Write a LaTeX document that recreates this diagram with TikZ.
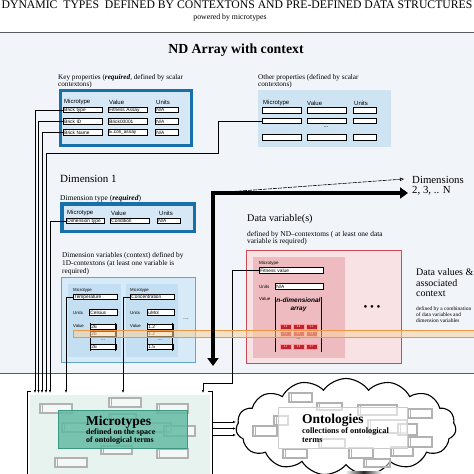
\documentclass[tikz,border=0pt]{standalone}
\usepackage{fontspec}
\setmainfont{Liberation Serif}
\setsansfont{Liberation Sans}
\usetikzlibrary{shapes.symbols,arrows.meta}
\definecolor{bgblue}{RGB}{241,245,250}
\definecolor{keyblue}{RGB}{24,112,170}
\definecolor{keyfill}{RGB}{214,232,246}
\definecolor{othfill}{RGB}{207,228,243}
\definecolor{dvborder}{RGB}{95,165,205}
\definecolor{dvfill}{RGB}{214,234,247}
\definecolor{panfill}{RGB}{196,223,241}
\definecolor{redb}{RGB}{205,75,85}
\definecolor{redfill}{RGB}{249,226,228}
\definecolor{redpan}{RGB}{238,188,192}
\definecolor{cellred}{RGB}{192,35,50}
\definecolor{orng}{RGB}{236,150,70}
\definecolor{orngfill}{RGB}{248,210,160}
\definecolor{tealc}{RGB}{95,185,163}
\definecolor{tealb}{RGB}{60,150,130}
\definecolor{mtbg}{RGB}{230,243,239}
\definecolor{sepgray}{RGB}{90,90,90}
\newcommand{\fsz}[1]{\fontsize{#1}{#1}\selectfont}
\newcommand{\ghb}[4]{\draw[ghost,fill=white,fill opacity=0.45] (#1,#2) rectangle ++(#3,#4); \draw[ghost] (#1+1.2,#2+1.2) rectangle ++(#3-2.4,#4-2.4); \draw[ghost] (#1+3.5,#2) -- ++(0,#4);}
\tikzset{
  fld/.style={draw=black, line width=0.75pt, fill=white, minimum height=5.5pt, inner xsep=1pt, inner ysep=0pt, anchor=west, align=left, font=\sffamily\fsz{4.8}},
  hdr/.style={anchor=west, inner sep=0pt, font=\sffamily\fsz{6}},
  shdr/.style={anchor=west, inner sep=0pt, font=\sffamily\fsz{4.3}},
  conn/.style={draw=black, line width=0.6pt, -{Latex[length=3pt,width=2.4pt]}},
  ghost/.style={draw=gray!60, line width=0.45pt},
  cell/.style={fill=cellred, draw=red!40, line width=0.3pt, minimum width=11pt, minimum height=5pt, inner sep=0pt, text=white, font=\sffamily\fsz{2.5}},
  bracketline/.style={line width=1.5pt, draw=black},
}
\begin{document}
\begin{tikzpicture}[x=1pt,y=-1pt]
\useasboundingbox (0,0) rectangle (474,474);
\clip (0,0) rectangle (474,474);
\fill[white] (0,0) rectangle (474,474);
\fill[bgblue] (0,33) rectangle (474,373);
\draw[sepgray, line width=1.4pt] (0,32.5) -- (474,32.5);
\draw[sepgray, line width=1pt] (0,373) -- (474,373);

% ---------- titles
\node[anchor=base, inner sep=0pt, font=\fsz{11.7}] (title) at (237,8) {DYNAMIC\ \ TYPES\ \ DEFINED BY CONTEXTONS AND PRE-DEFINED DATA STRUCTURES};
\node[inner sep=0pt, font=\fsz{7.8}] (subtitle) at (230,18) {powered by microtypes};
\node[inner sep=0pt, font=\bfseries\fsz{13.8}] (ndtitle) at (236,50) {ND Array with context};

% ---------- key properties
\node[anchor=north west, inner sep=0pt, align=left, font=\fontsize{7.2}{7.4}\selectfont] (keylab) at (58,74) {Key properties (\textbf{\textit{required}}, defined by scalar\\contextons)};
\node[draw=keyblue, line width=3.5pt, fill=keyfill, minimum width=131pt, minimum height=55pt, inner sep=0pt] (keybox) at (126,118) {};
\node[hdr] (kh1) at (64,102) {Microtype};
\node[hdr] (kh2) at (109,102) {Value};
\node[hdr] (kh3) at (156,102) {Units};
\node[fld, text width=37pt] (k11) at (63,110) {Brick type};
\node[fld, text width=37pt] (k12) at (108,110) {Fitness Assay};
\node[fld, text width=21pt] (k13) at (155,110) {N/A};
\node[fld, text width=37pt] (k21) at (63,121.5) {Brick ID};
\node[fld, text width=37pt] (k22) at (108,121.5) {Brick00001};
\node[fld, text width=21pt] (k23) at (155,121.5) {N/A};
\node[fld, text width=37pt] (k31) at (63,132.5) {Brick Name};
\node[fld, text width=37pt] (k32) at (108,132.5) {E.coli\_assay};
\node[fld, text width=21pt] (k33) at (155,132.5) {N/A};

% ---------- other properties
\node[anchor=north west, inner sep=0pt, align=left, font=\fontsize{7.2}{7.4}\selectfont] (othlab) at (258,74) {Other properties (defined by scalar\\contextons)};
\node[fill=othfill, minimum width=133pt, minimum height=57pt, inner sep=0pt, anchor=north west] (othbox) at (258,90) {};
\node[hdr] (oh1) at (263,103) {Microtype};
\node[hdr] (oh2) at (307,103) {Value};
\node[hdr] (oh3) at (354,103) {Units};
\node[fld, text width=37pt] (o11) at (262,110.5) {};
\node[fld, text width=37pt] (o12) at (307,110.5) {};
\node[fld, text width=21pt] (o13) at (353,110.5) {};
\node[fld, text width=37pt] (o21) at (262,121) {};
\node[fld, text width=37pt] (o22) at (307,121) {};
\node[fld, text width=21pt] (o23) at (353,121) {};
\node[inner sep=0pt, font=\sffamily\fsz{6}] (odots) at (326,127.5) {...};
\node[fld, text width=37pt] (o31) at (262,137.5) {};
\node[fld, text width=37pt] (o32) at (307,137.5) {};
\node[fld, text width=21pt] (o33) at (353,137.5) {};

% ---------- dimension 1
\node[anchor=west, inner sep=0pt, font=\fsz{11}] (dim1) at (60,179) {Dimension 1};
\node[anchor=west, inner sep=0pt, font=\fsz{7.5}] (dtlab) at (60,198.5) {Dimension type (\textbf{\textit{required}})};
\node[draw=keyblue, line width=3.5pt, fill=keyfill, minimum width=132.5pt, minimum height=27.5pt, inner sep=0pt] (dtbox) at (128,217.5) {};
\node[hdr] (dh1) at (67,213) {Microtype};
\node[hdr] (dh2) at (111,213) {Value};
\node[hdr] (dh3) at (159,213) {Units};
\node[fld, text width=36pt] (d1) at (66,221) {Dimension type};
\node[fld, text width=37pt] (d2) at (110,221) {Condition};
\node[fld, text width=21pt] (d3) at (157,221) {N/A};

\node[anchor=north west, inner sep=0pt, align=left, font=\fontsize{7.3}{7.6}\selectfont] (dvlab) at (62,252.5) {Dimension variables (context) defined by\\1D-contextons (at least one variable is\\required)};
\node[draw=dvborder, line width=0.9pt, fill=dvfill, minimum width=134pt, minimum height=85pt, inner sep=0pt, anchor=north west] (dvbox) at (61,277) {};
\node[fill=panfill, minimum width=53pt, minimum height=73pt, inner sep=0pt, anchor=north west] (pan1) at (68,284) {};
\node[fill=panfill, minimum width=52pt, minimum height=73pt, inner sep=0pt, anchor=north west] (pan2) at (126,284) {};
% panel 1
\node[shdr] (p1mt) at (73,290) {Microtype};
\node[fld, text width=42pt] (p1f) at (73,297) {Temperature};
\node[shdr] (p1u) at (73,312.5) {Units};
\node[fld, text width=26pt] (p1uf) at (89,312.5) {Celsius};
\node[shdr] (p1v) at (73,326) {Value};
\node[fld, text width=24pt] (p1v1) at (90,327) {26};
\node[fld, text width=24pt] (p1v2) at (90,334) {26};
\node[inner sep=0pt, font=\sffamily\fsz{5}] (p1vd) at (103,340) {...};
\node[fld, text width=24pt] (p1v4) at (90,347) {26};
\draw[bracketline] (90.5,322.5) -- (90.5,351);
\draw[bracketline] (115.5,322.5) -- (115.5,351);
% panel 2
\node[shdr] (p2mt) at (130,290) {Microtype};
\node[fld, text width=42pt] (p2f) at (130,297) {Concentration};
\node[shdr] (p2u) at (130,312.5) {Units};
\node[fld, text width=25pt] (p2uf) at (147,312.5) {uMol};
\node[shdr] (p2v) at (130,326) {Value};
\node[fld, text width=24pt] (p2v1) at (147,327) {1.2};
\node[fld, text width=24pt] (p2v2) at (147,334) {1.2};
\node[inner sep=0pt, font=\sffamily\fsz{5}] (p2vd) at (160,340) {...};
\node[fld, text width=24pt] (p2v4) at (147,347) {1.5};
\draw[bracketline] (147.5,322.5) -- (147.5,351);
\draw[bracketline] (172.5,322.5) -- (172.5,351);
\node[inner sep=0pt, font=\sffamily\fsz{7}, text=black!70] (pdots) at (186,319) {...};

% ---------- data variables
\node[anchor=west, inner sep=0pt, font=\fsz{10.2}] (dvar) at (247,219) {Data variable(s)};
\node[anchor=north west, inner sep=0pt, align=left, font=\fontsize{7.4}{7.2}\selectfont] (dvardesc) at (247,231) {defined by ND--contextoms ( at least one data\\variable is required)};
\node[draw=redb, line width=0.9pt, fill=redfill, minimum width=155pt, minimum height=113pt, anchor=north west, inner sep=0pt] (redbox) at (246,250) {};
\node[fill=redpan, minimum width=92pt, minimum height=101pt, anchor=north west, inner sep=0pt] (redpanel) at (253,257) {};
\node[shdr, font=\sffamily\fsz{4.5}] (rmt) at (259,263.5) {Microtype};
\node[fld, text width=62pt] (rf) at (259,270.5) {Fitness value};
\node[shdr, font=\sffamily\fsz{4.5}] (ru) at (259,286.5) {Units};
\node[fld, text width=46pt] (ruf) at (275,286.5) {N/A};
\node[shdr, font=\sffamily\fsz{4.5}] (rv) at (259,299) {Value};
\draw[line width=1.3pt] (275.5,297) -- (275.5,352);
\draw[line width=1.3pt] (321.5,297) -- (321.5,352);
\node[inner sep=0pt, align=center, font=\sffamily\bfseries\itshape\fontsize{6.5}{8}\selectfont] (nda) at (298.5,305) {n-dimensional\\array};
\node[cell] (c11) at (285.5,327) {0.8};
\node[cell] (c12) at (298.5,327) {0.8};
\node[cell] (c13) at (311.5,327) {0.2};
\node[cell] (c21) at (285.5,334) {0.1};
\node[cell] (c22) at (298.5,334) {0.7};
\node[cell] (c23) at (311.5,334) {0.8};
\node[inner sep=0pt, font=\sffamily\fsz{5}] (cdots) at (298.5,339.5) {...};
\node[cell] (c31) at (285.5,347) {0.1};
\node[cell] (c32) at (298.5,347) {0.8};
\node[cell] (c33) at (311.5,347) {0.7};
\node[inner sep=0pt, font=\fsz{11}] (rdots) at (372,308) {\textbullet\hspace{2.6pt}\textbullet\hspace{2.6pt}\textbullet};

\node[anchor=north west, inner sep=0pt, align=left, font=\fontsize{10}{10.5}\selectfont] (dvals) at (416,268.5) {Data values \&\\associated\\context};
\node[anchor=north west, inner sep=0pt, align=left, font=\fontsize{5.4}{5.9}\selectfont] (dvalsdesc) at (416,306.5) {defined by a combination\\of data variables and\\dimension variables};

% ---------- connectors
\coordinate (t1) at (35,393);
\coordinate (t2) at (38.5,393);
\coordinate (t3) at (42,393);
\coordinate (t4) at (46,393);
\coordinate (t5) at (50,393);
\coordinate (t6) at (66,393);
\coordinate (t7) at (123,393);
\coordinate (t8) at (203,393);
\coordinate (ob) at (218,153);
\coordinate (fvb) at (232,383);
\draw[conn] (k11.west) -| (t1);
\draw[conn] (k21.west) -| (t2);
\draw[conn] (k31.west) -| (t3);
\draw[conn] (o21.west) -| (ob) -| (t4);
\draw[conn] (d1.west) -| (t5);
\draw[conn] (p1f.west) -| (t6);
\draw[conn] (p2f.west) -| (t7);
\draw[conn] (rf.west) -| (fvb) -| (t8);

% ---------- orange highlight
\draw[orng, line width=0.8pt, fill=orngfill, fill opacity=0.55] (73,330.5) rectangle (480,337.5);

% ---------- dimension arrows
\coordinate (bc) at (213,193);
\coordinate (bd) at (213,366);
\coordinate (br) at (408,193);
\coordinate (bt) at (404,179);
\draw[line width=3.5pt, {Triangle[length=8pt,width=11pt]}-{Triangle[length=8pt,width=11pt]}] (br) -- (bc) -- (bd);
\draw[line width=0.6pt, dash pattern=on 4pt off 1pt, -{Triangle[open,length=4pt,width=3.5pt]}] (bc) -- (bt);
\node[anchor=north west, inner sep=0pt, align=left, font=\fontsize{10.8}{10.5}\selectfont] (dimsN) at (412,176) {Dimensions\\2, 3, .. N};

% ---------- microtypes
\fill[mtbg] (29.5,395) rectangle (210,474);
\draw[line width=0.9pt] (31,391) -- (27,391) -- (27,476);
\draw[line width=0.9pt] (208,391) -- (212,391) -- (212,476);
\ghb{39}{403}{33}{10}
\ghb{108}{397}{33}{10}
\ghb{156}{403}{32}{10}
\ghb{108}{413}{28}{9}
\ghb{61}{422}{110}{10}
\ghb{163}{425}{32}{11}
\ghb{100}{445}{32}{9}
\ghb{156}{448}{32}{10}
\ghb{54}{457}{33}{10}
\node[fill=tealc, fill opacity=0.82, draw=tealb, line width=0.6pt, minimum width=129pt, minimum height=38pt, anchor=north west, inner sep=0pt] (mtrect) at (58,410) {};
\node[anchor=west, inner sep=0pt, font=\bfseries\fsz{13.5}] (mtt) at (86,422) {Microtypes};
\node[anchor=north west, inner sep=0pt, align=left, font=\bfseries\fontsize{8}{7.8}\selectfont] (mtd) at (86,428.5) {defined on the space\\of ontological terms};

% ---------- ontologies
\node[cloud, cloud puffs=15, cloud puff arc=110, aspect=2.4, draw, line width=1.1pt, fill=white, minimum width=220pt, minimum height=97pt, inner sep=0pt] (cloud) at (346,427) {};
\coordinate (oa1) at (213,422);
\coordinate (oa2) at (213,428.5);
\coordinate (oa3) at (213,435);
\coordinate (ob1) at (236,422);
\coordinate (ob2) at (236,428.5);
\coordinate (ob3) at (236,435);
\draw[conn] (oa1) -- (ob1);
\draw[conn] (oa2) -- (ob2);
\draw[conn] (oa3) -- (ob3);
\ghb{288}{392}{24}{10}
\ghb{316}{402}{26}{8}
\ghb{357}{404}{40}{11}
\ghb{407}{408}{25}{10}
\ghb{252}{425}{25}{11}
\ghb{273}{415}{15}{10}
\ghb{367}{419}{40}{14}
\ghb{397}{423}{20}{12}
\ghb{407}{436}{25}{11}
\ghb{282}{448}{25}{10}
\ghb{348}{447}{25}{11}
\ghb{390}{446}{23}{10}
\ghb{363}{458}{27}{9}
\ghb{318}{438}{27}{10}
\node[fill=white, fill opacity=0.55, draw=gray!40, line width=0.5pt, minimum width=129pt, minimum height=41pt, anchor=north west, inner sep=0pt] (ontrect) at (278,407) {};
\node[anchor=west, inner sep=0pt, font=\bfseries\fsz{13.5}] (ontt) at (302,420) {Ontologies};
\node[anchor=north west, inner sep=0pt, align=left, font=\bfseries\fontsize{8.3}{8.8}\selectfont] (ontd) at (302,427.5) {collections of ontological\\terms};
\shade[left color=white, right color=white, middle color=black!85] (345,471) rectangle (382,474);
\end{tikzpicture}
\end{document}
